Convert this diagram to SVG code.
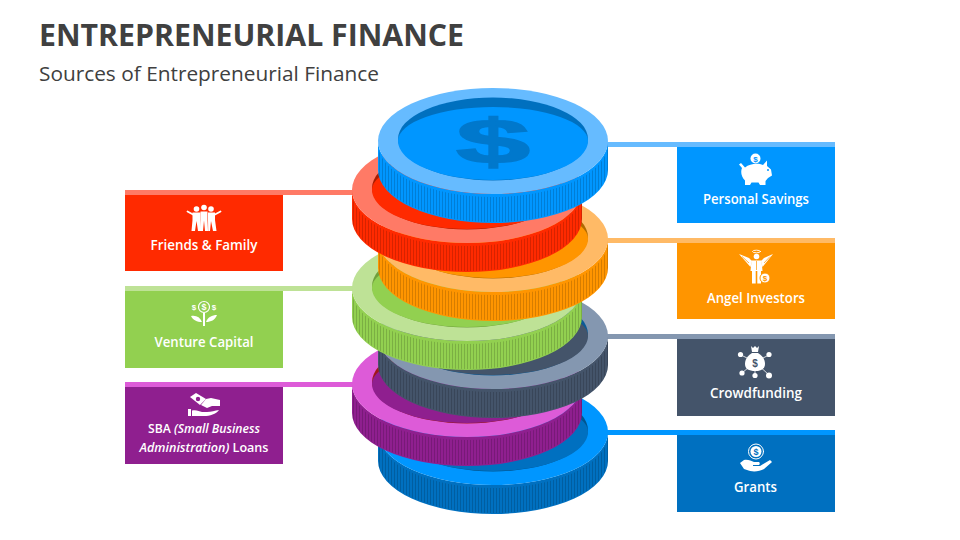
<svg xmlns="http://www.w3.org/2000/svg" width="960" height="540" viewBox="0 0 960 540">
<style>
text{font-family:"Open Sans","Liberation Sans",sans-serif}
.title{font-size:30.5px;font-weight:700;fill:#404040}
.sub{font-size:20px;fill:#404040}
.lb{font-size:14px;font-weight:600;fill:#fff;text-anchor:middle}
.lb2{font-size:12.5px;font-weight:600;fill:#fff;text-anchor:middle}
.ic{fill:#fff;stroke:none}
.il{fill:none;stroke:#fff;stroke-linecap:round}
.d{font-family:"Liberation Sans",sans-serif;font-weight:700;text-anchor:middle}
.blueT-r{fill:#66BBFF}.blueT-s{fill:#0096FF}.blueT-k{fill:#0070BF}
.red-r{fill:#FF7A66}.red-s{fill:#FF2A00}.red-k{fill:#A81C00}
.org-r{fill:#FFBA66}.org-s{fill:#FF9500}.org-k{fill:#B06A00}
.grn-r{fill:#BEE296}.grn-s{fill:#92D050}.grn-k{fill:#6F9F3C}
.slt-r{fill:#8497B0}.slt-s{fill:#44546A}.slt-k{fill:#0A5A96}
.mag-r{fill:#DD5BD8}.mag-s{fill:#8F1F8F}.mag-k{fill:#A01818}
.blueB-r{fill:#0096FF}.blueB-s{fill:#0070C0}.blueB-k{fill:#00558F}
</style>
<defs>
<pattern id="ridge" patternUnits="userSpaceOnUse" width="3" height="10"><rect width="1" height="10" fill="#000" fill-opacity="0.16"/></pattern>
<ellipse id="rim" rx="115" ry="53"/>
<path id="side" d="M-115,0A115,53 0 0 0 115,0V29A115,53 0 0 1 -115,29Z"/>
<path id="ribs" d="M-115,3A115,53 0 0 0 115,3V28A115,53 0 0 1 -115,28Z" fill="url(#ridge)"/>
<ellipse id="well" cy="-2" rx="95" ry="41.5"/>
<path id="face" d="M-95,0A95,34 0 0 1 95,0A95,39 0 0 1 -95,0Z"/>
</defs>
<rect width="960" height="540" fill="#fff"/>
<text class="title" x="39" y="45.5" textLength="425" lengthAdjust="spacingAndGlyphs">ENTREPRENEURIAL FINANCE</text>
<text class="sub" x="39" y="80.5" textLength="340" lengthAdjust="spacingAndGlyphs">Sources of Entrepreneurial Finance</text>
<g id="connectors">
<rect x="125" y="190" width="235" height="5" class="red-r"/>
<rect x="125" y="286" width="235" height="5" class="grn-r"/>
<rect x="125" y="382" width="235" height="5" class="mag-r"/>
<rect x="600" y="142" width="235" height="5" class="blueT-r"/>
<rect x="600" y="238" width="235" height="5" class="org-r"/>
<rect x="600" y="334" width="235" height="5" class="slt-r"/>
<rect x="600" y="430" width="235" height="5" class="blueB-r"/>
</g>
<g id="coin-grants" transform="translate(493,432)"><use href="#side" class="blueB-s"/><use href="#ribs"/><use href="#rim" class="blueB-r"/><use href="#well" class="blueB-k"/><use href="#face" class="blueB-s"/></g>
<g id="coin-sba" transform="translate(467,384)"><use href="#side" class="mag-s"/><use href="#ribs"/><use href="#rim" class="mag-r"/><use href="#well" class="mag-k"/><use href="#face" class="mag-s"/></g>
<g id="coin-crowdfunding" transform="translate(493,336)"><use href="#side" class="slt-s"/><use href="#ribs"/><use href="#rim" class="slt-r"/><use href="#well" class="slt-k"/><use href="#face" class="slt-s"/></g>
<g id="coin-venture" transform="translate(467,288)"><use href="#side" class="grn-s"/><use href="#ribs"/><use href="#rim" class="grn-r"/><use href="#well" class="grn-k"/><use href="#face" class="grn-s"/></g>
<g id="coin-angel" transform="translate(493,239)"><use href="#side" class="org-s"/><use href="#ribs"/><use href="#rim" class="org-r"/><use href="#well" class="org-k"/><use href="#face" class="org-s"/></g>
<g id="coin-friends" transform="translate(467,190)"><use href="#side" class="red-s"/><use href="#ribs"/><use href="#rim" class="red-r"/><use href="#well" class="red-k"/><use href="#face" class="red-s"/></g>
<g id="coin-savings" transform="translate(493,141)"><use href="#side" class="blueT-s"/><use href="#ribs"/><use href="#rim" class="blueT-r"/><use href="#well" class="blueT-k"/><use href="#face" class="blueT-s"/>
<text class="d" transform="translate(0,22) scale(2.15,1)" font-size="62" fill="#0078CC" stroke="#0078CC" stroke-width="1.4">$</text></g>

<g id="friends">
<rect x="125" y="195" width="158" height="76" class="red-s"/>
<circle class="ic" cx="196.500" cy="209" r="2.800"/><circle class="ic" cx="204" cy="207.500" r="2.800"/><circle class="ic" cx="211" cy="209" r="2.800"/>
<path class="il" stroke-width="1.800" d="M193,214.500L187.500,211.500M215,214.500L220.500,211.500"/>
<path class="ic" stroke="#FF2A00" d="M192.500,212.500H200.500V220L201,231H198L196.500,221L195,231H191.500L192.500,220Z"/>
<path class="ic" d="M200.500,211.500H207.500V220L208,231H205L204,220.500L203,231H200L200.500,220Z"/>
<path class="ic" d="M208,212.500H215V220L216.500,231H213L211,221L210,231H208.200L208,220Z"/>
<text class="lb" x="204" y="250" textLength="107" lengthAdjust="spacingAndGlyphs">Friends &amp; Family</text>
</g>
<g id="venture">
<rect x="125" y="291" width="158" height="77" class="grn-s"/>
<circle class="il" cx="204" cy="307" r="5.500" stroke-width="1.200"/>
<text class="d" x="204" y="310" font-size="9" fill="#fff">$</text>
<text class="d" x="194" y="310" font-size="8" fill="#fff">$</text>
<text class="d" x="214" y="310" font-size="8" fill="#fff">$</text>
<path class="ic" d="M203,313H205V326H203Z"/>
<path class="ic" d="M202,322C197,322 193,320 191,316C196,315 200,317 202,322ZM206,322C211,322 215,320 217,315C212,315 208,317 206,322Z"/>
<text class="lb" x="204" y="347" textLength="99" lengthAdjust="spacingAndGlyphs">Venture Capital</text>
</g>
<g id="sba">
<rect x="125" y="387" width="158" height="77" class="mag-s"/>
<path class="ic" d="M190,397L196,393L206,399L200,405Z"/>
<circle cx="198" cy="399" r="2.200" fill="#8F1F8F"/>
<path class="ic" d="M201,405L206,399L211,398L220,400V406L212,406L207,408Z"/>
<path class="ic" d="M188,409H191V416H188ZM192,410.500C196,409.500 199,411 202,412H207C211,412 215,410.500 219,410C216,414 210,416 204,416H192Z"/>
<text class="lb2" x="204" y="433" textLength="112" lengthAdjust="spacingAndGlyphs">SBA <tspan font-style="italic">(Small Business</tspan></text>
<text class="lb2" x="204" y="452" textLength="129" lengthAdjust="spacingAndGlyphs"><tspan font-style="italic">Administration)</tspan> Loans</text>
</g>
<g id="savings">
<rect x="677" y="147" width="158" height="76" class="blueT-s"/>
<circle class="ic" cx="755.500" cy="158.500" r="5"/>
<text class="d" x="755.500" y="161.500" font-size="8" fill="#0096FF">$</text>
<path class="ic" d="M739,164.500L741,163L745,167.500C750,163.500 758,163 763,165L767,160.500V166L771,169.500L772,175.500L768,178L765.500,181V185H760L758.500,182.500H751.500L750,185H745V180.500C741,177 740.500,171 742,168Z"/>
<circle cx="768" cy="170" r="1" fill="#0096FF"/>
<text class="lb" x="756" y="203.500" textLength="106" lengthAdjust="spacingAndGlyphs">Personal Savings</text>
</g>
<g id="angel">
<rect x="677" y="243" width="158" height="76" class="org-s"/>
<ellipse class="il" cx="756.500" cy="251.500" rx="4" ry="1.300" stroke-width="0.900"/>
<circle class="ic" cx="756.500" cy="256.500" r="2.800"/>
<path class="ic" d="M750.500,267L739,254L749,258L752,261ZM762.500,267L773,254L764,258L761,261Z"/>
<path d="M749,263L742,256.500M764,263L770,256.500" stroke="#FF9500" stroke-width="0.700" fill="none"/>
<path class="ic" d="M751.500,260.500H761.500L762.500,271H761V283.500H757.300V271H755.700V283.500H752V271H750.500Z"/>
<path d="M756.500,261V270" stroke="#FF9500" stroke-width="0.700"/>
<circle cx="765" cy="278" r="5" fill="#fff" stroke="#FF9500" stroke-width="1"/>
<text class="d" x="765" y="281" font-size="8" fill="#FF9500">$</text>
<text class="lb" x="756" y="303" textLength="98" lengthAdjust="spacingAndGlyphs">Angel Investors</text>
</g>
<g id="crowdfunding">
<rect x="677" y="339" width="158" height="77" class="slt-s"/>
<path class="il" stroke-width="0.800" d="M755,362L741,355M755,362L769,355M755,362L742,373M755,362V375M755,362L769,375"/>
<path class="ic" d="M751,346L753,348L755,346L757,348L759,346L758,352H752Z"/>
<path class="ic" d="M752,353H758C763,356 765,360 765,364C765,369 761,371 755,371C749,371 745,369 745,364C745,360 747,356 752,353Z"/>
<text class="d" x="755" y="367" font-size="10" fill="#44546A">$</text>
<circle class="ic" cx="740.500" cy="354.500" r="2.600"/><circle class="ic" cx="769" cy="354.500" r="2.600"/><circle class="ic" cx="742" cy="373" r="2.600"/><circle class="ic" cx="755" cy="375.500" r="2.600"/><circle class="ic" cx="769" cy="375.500" r="3"/>
<text class="lb" x="756" y="398" textLength="92" lengthAdjust="spacingAndGlyphs">Crowdfunding</text>
</g>
<g id="grants">
<rect x="677" y="435" width="158" height="77" class="blueB-s"/>
<circle class="il" cx="756" cy="451.500" r="7.500" stroke-width="1"/>
<circle class="ic" cx="756" cy="451.500" r="5.500"/>
<text class="d" x="756" y="455" font-size="9" fill="#0070C0">$</text>
<path class="ic" d="M740,463L744,460C748,459 751,461 754,462H759C760,463 760,464 759,465H753V466H760L770,460L772,462L764,469C759,472 751,472 747,470L744,469Z"/>
<text class="lb" x="755.500" y="491.500" textLength="43" lengthAdjust="spacingAndGlyphs">Grants</text>
</g>
</svg>
